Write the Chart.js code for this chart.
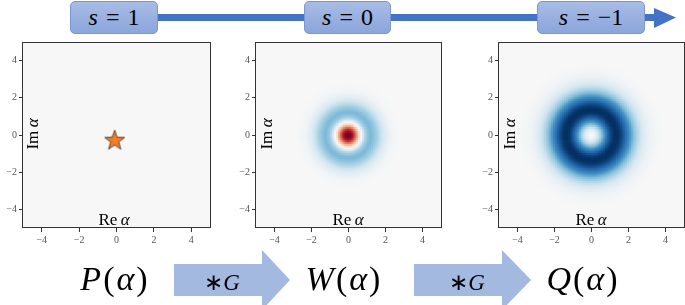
<!doctype html>
<html>
<head>
<meta charset="UTF-8">
<title>Phase space distributions</title>
<script src="https://cdn.jsdelivr.net/npm/chart.js"></script>
<style>
  body { margin: 0; background: #fff; }
  #fig { position: relative; width: 685px; height: 305px; overflow: hidden; font-family: "Liberation Serif", serif; color: #000; }
  canvas { position: absolute; top: 34px; }
  .sbox { position: absolute; top: 1px; height: 33px; box-sizing: border-box; border: 1px solid #7b97cf; border-radius: 5px;
          background: linear-gradient(#a8bce5, #8ba6db); font-size: 24px; display: flex; align-items: center; justify-content: center; }
  .eq { margin: 0 8px; }
  .lbl { position: absolute; white-space: nowrap; transform: translate(-50%, -50%); }
  .ax { font-size: 17px; }
  .ay { font-size: 17px; transform: translate(-50%, -50%) rotate(-90deg); }
  .big { font-size: 34px; letter-spacing: 2px; }
  .op { font-size: 23px; }
</style>
</head>
<body>
<div id="fig">
  <svg width="685" height="305" style="position:absolute;left:0;top:0">
    <rect x="110" y="14" width="545" height="7" fill="#4472c4"/>
    <polygon points="654,8 676,17.5 654,28" fill="#4472c4"/>
    <polygon points="174,264 262,264 262,250 290,280 262,310 262,296 174,296" fill="#a4b9e0"/>
    <polygon points="414,264 502,264 502,250 531,280 502,310 502,296 414,296" fill="#a4b9e0"/>
  </svg>
  <div class="sbox" style="left:70px;width:88px"></div>
  <div class="sbox" style="left:304px;width:87px"></div>
  <div class="sbox" style="left:537px;width:108px"></div>
  <canvas id="c0" width="215" height="218" style="left:0"></canvas>
  <canvas id="c1" width="216" height="218" style="left:230px"></canvas>
  <canvas id="c2" width="212" height="218" style="left:473px"></canvas>
</div>
<script>
// axes
const tickValues = [-4, -2, 0, 2, 4];
const axisMin = -5;
const axisMax = 5;

// text
const sValues = ['1', '0', '−1'];
const distNames = ['P', 'W', 'Q'];

// P(alpha): single point
const starX = [-0.1];
const starY = [-0.25];

const profileStep = 0.1;
const wignerProfile = [-1.00, -0.97, -0.88, -0.75, -0.58, -0.39, -0.20, -0.01, 0.15, 0.28,
  0.37, 0.42, 0.45, 0.44, 0.41, 0.37, 0.32, 0.27, 0.22, 0.17,
  0.13, 0.10, 0.07, 0.05, 0.03, 0.02, 0.015, 0.01, 0.006, 0.0];
const husimiProfile = [0.00, 0.015, 0.06, 0.13, 0.22, 0.33, 0.44, 0.56, 0.67, 0.78,
  0.86, 0.93, 0.98, 1.00, 1.00, 0.98, 0.94, 0.88, 0.82, 0.74,
  0.67, 0.59, 0.51, 0.43, 0.37, 0.30, 0.25, 0.20, 0.16, 0.12,
  0.10, 0.07, 0.055, 0.04, 0.03, 0.02, 0.016, 0.011, 0.008, 0.0];

const RDBU = ['#67001f', '#b2182b', '#d6604d', '#f4a582', '#fddbc7', '#f7f7f7', '#d1e5f0', '#92c5de', '#4393c3', '#2166ac', '#053061'];

const hex = (h) => [1, 3, 5].map((i) => parseInt(h.slice(i, i + 2), 16));
const cmap = (stops, t) => {
  t = Math.min(1, Math.max(0, t));
  const p = t * (stops.length - 1);
  const i = Math.min(stops.length - 2, Math.floor(p));
  const f = p - i;
  const a = hex(stops[i]), b = hex(stops[i + 1]);
  const c = a.map((v, k) => Math.round(v + (b[k] - v) * f));
  return `rgb(${c[0]},${c[1]},${c[2]})`;
};
const color = (v) => cmap(RDBU, (v + 1) / 2);

// profile value at a radius (in steps), shaded smoothly between samples
const profileAt = (profile, rs) => {
  const i = Math.floor(rs);
  const f = rs - i;
  return profile[i] + (profile[i + 1] - profile[i]) * f;
};

// grid cells from a radial profile
const buildCells = (profile) => {
  const n = profile.length - 1;
  const pts = [];
  for (let i = -n; i <= n; i++) {
    for (let j = -n; j <= n; j++) {
      const rs = Math.hypot(i, j);
      if (rs < n) pts.push({ x: i * profileStep, y: j * profileStep, v: profileAt(profile, rs) });
    }
  }
  return pts;
};

const starImg = (() => {
  const c = document.createElement('canvas');
  c.width = 24; c.height = 24;
  const g = c.getContext('2d');
  g.beginPath();
  for (let k = 0; k < 10; k++) {
    const r = k % 2 ? 4.3 : 10.5;
    const a = -Math.PI / 2 + k * Math.PI / 5;
    g.lineTo(12 + r * Math.cos(a), 13 + r * Math.sin(a));
  }
  g.closePath();
  g.fillStyle = '#ee7d2e';
  g.fill();
  g.lineWidth = 0.8;
  g.strokeStyle = '#4a2a12';
  g.stroke();
  return c;
})();

const framePlugin = {
  id: 'frame',
  beforeDatasetsDraw(chart, args, opts) {
    const a = chart.chartArea, ctx = chart.ctx;
    ctx.save();
    ctx.fillStyle = opts.bg;
    ctx.fillRect(a.left, a.top, a.right - a.left, a.bottom - a.top);
    ctx.restore();
  },
  afterDatasetsDraw(chart) {
    const a = chart.chartArea, ctx = chart.ctx;
    ctx.save();
    ctx.strokeStyle = '#333';
    ctx.lineWidth = 1;
    ctx.strokeRect(Math.round(a.left) - 0.5, Math.round(a.top) + 0.5, Math.round(a.right - a.left) + 1, Math.round(a.bottom - a.top) - 1);
    ctx.restore();
  }
};

const fmt = (v) => (v < 0 ? '−' + Math.abs(v) : String(v));
const axis = (fit) => ({
  type: 'linear',
  min: axisMin,
  max: axisMax,
  afterBuildTicks: (s) => { s.ticks = tickValues.map((v) => ({ value: v })); },
  afterFit: fit,
  grid: { drawOnChartArea: false, drawTicks: true, tickLength: 4, color: '#333' },
  border: { display: false },
  ticks: { font: { family: 'Liberation Serif', size: 10 }, color: '#555', padding: 2, maxRotation: 0, callback: fmt }
});

const cellRadius = (ctx) => {
  const s = ctx.chart.scales.x;
  return Math.abs(s.getPixelForValue(profileStep) - s.getPixelForValue(0)) * 1.0;
};

const makePanel = (id, yw, rp, datasets) => new Chart(document.getElementById(id), {
  type: 'scatter',
  data: { datasets },
  options: {
    responsive: false,
    animation: false,
    events: [],
    layout: { padding: { top: 4, right: rp, left: 0, bottom: 0 } },
    plugins: { legend: { display: false }, tooltip: { enabled: false }, frame: { bg: color(0) } },
    scales: {
      x: axis((s) => { s.height = 24; }),
      y: axis((s) => { s.width = yw; })
    }
  },
  plugins: [framePlugin]
});

const cellSet = (profile) => ({
  data: buildCells(profile),
  pointStyle: 'rect',
  pointRadius: cellRadius,
  pointBorderWidth: 0,
  pointBackgroundColor: (ctx) => color(ctx.raw.v)
});

makePanel('c0', 23, 5, [{
  data: starX.map((x, i) => ({ x, y: starY[i] })),
  pointStyle: starImg,
  pointRadius: 1
}]);
makePanel('c1', 26, 5, [cellSet(wignerProfile)]);
makePanel('c2', 26, 1, [cellSet(husimiProfile)]);

// text overlays
const fig = document.getElementById('fig');
const addLabel = (cls, x, y, html) => {
  const d = document.createElement('div');
  d.className = 'lbl ' + cls;
  d.style.left = x + 'px';
  d.style.top = y + 'px';
  d.innerHTML = html;
  fig.appendChild(d);
};
document.querySelectorAll('.sbox').forEach((b, i) => {
  b.innerHTML = `<i>s</i><span class="eq">=</span>${sValues[i]}`;
});
const reX = [114, 348, 591];
const imX = [33, 267, 510];
const nameX = [115, 344, 583];
const opX = [222, 467];
distNames.forEach((n, i) => {
  addLabel('ax', reX[i], 220, 'Re&#8201;<i>α</i>');
  addLabel('ay', imX[i], 134, 'Im&#8201;<i>α</i>');
  addLabel('big', nameX[i], 279, `<i>${n}</i>(<i>α</i>)`);
});
opX.forEach((x) => addLabel('op', x, 282, '∗<i>G</i>'));
</script>
</body>
</html>
